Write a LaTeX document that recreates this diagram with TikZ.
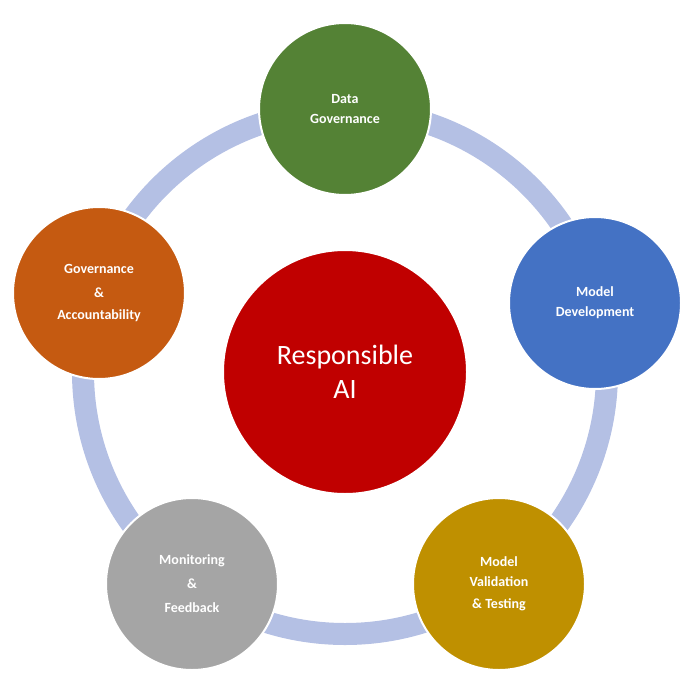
\documentclass[tikz,border=0pt]{standalone}
\usepackage{fontspec}
\setmainfont{Carlito}
\begin{document}
\begin{tikzpicture}[x=1pt,y=-1pt,
  petal/.style={circle,minimum size=172pt,inner sep=0pt,draw=white,line width=2pt,text=white,font=\bfseries\fontsize{14}{20}\selectfont,align=center}]
\useasboundingbox (0,0) rectangle (690,693);
\coordinate (c) at (345,372);
\draw[color={rgb,255:red,180;green,192;blue,228},line width=22pt] (c) circle (262);
\node[petal,fill={rgb,255:red,84;green,130;blue,53}] (dg) at (345,109) {Data\\Governance};
\node[petal,fill={rgb,255:red,68;green,114;blue,196}] (md) at (595,303) {Model\\Development};
\node[petal,fill={rgb,255:red,191;green,144;blue,0}] (mv) at (499,584) {Model\\Validation\\[2pt]\& Testing};
\node[petal,fill={rgb,255:red,165;green,165;blue,165}] (mf) at (192,584) {Monitoring\\[4pt]\&\\[4pt]Feedback};
\node[petal,fill={rgb,255:red,197;green,90;blue,17}] (ga) at (99,293) {Governance\\[4pt]\&\\[2pt]Accountability};
\node[circle,minimum size=244pt,inner sep=0pt,fill={rgb,255:red,192;green,0;blue,0},draw=white,line width=2pt,text=white,align=center,font=\fontsize{28}{34}\selectfont] (rai) at (c) {Responsible\\AI};
\end{tikzpicture}
\end{document}
